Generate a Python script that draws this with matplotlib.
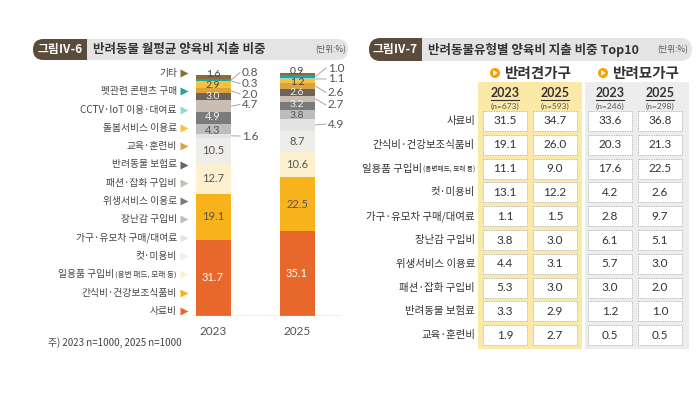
import numpy as np
import matplotlib.pyplot as plt
from matplotlib.patches import FancyBboxPatch, Rectangle, Circle, Polygon

plt.rcParams['font.family'] = ['Noto Sans CJK KR', 'DejaVu Sans']
NUM = ['Lato', 'DejaVu Sans']   # numbers look thin/humanist in the original

# ---- data: left panel (legend order, top of stack first) ----
cats = ['기타', '펫관련 콘텐츠 구매', 'CCTV·IoT 이용·대여료', '돌봄서비스 이용료', '교육·훈련비',
        '반려동물 보험료', '패션·잡화 구입비', '위생서비스 이용로', '장난감 구입비',
        '가구·유모차 구매/대여료', '컷·미용비', '일용품 구입비', '간식비·건강보조식품비', '사료비']
v2023 = [1.6, 0.8, 0.3, 2.9, 2.0, 3.0, 4.7, 4.9, 4.3, 1.6, 10.5, 12.7, 19.1, 31.7]
v2025 = [0.9, 1.0, 1.1, 1.2, 2.6, 2.6, 2.7, 3.2, 3.8, 4.9, 8.7, 10.6, 22.5, 35.1]
years = ['2023', '2025']
outside = [1, 2, 4, 6, 9]   # segments labelled outside the bar

# ---- data: right panel ----
rows = ['사료비', '간식비·건강보조식품비', '일용품 구입비', '컷·미용비', '가구·유모차 구매/대여료',
        '장난감 구입비', '위생서비스 이용료', '패션·잡화 구입비', '반려동물 보험료', '교육·훈련비']
dog23 = [31.5, 19.1, 11.1, 13.1, 1.1, 3.8, 4.4, 5.3, 3.3, 1.9]
dog25 = [34.7, 26.0, 9.0, 12.2, 1.5, 3.0, 3.1, 3.0, 2.9, 2.7]
cat23 = [33.6, 20.3, 17.6, 4.2, 2.8, 6.1, 5.7, 3.0, 1.2, 0.5]
cat25 = [36.8, 21.3, 22.5, 2.6, 9.7, 5.1, 3.0, 2.0, 1.0, 0.5]
n_sizes = ['(n=673)', '(n=593)', '(n=246)', '(n=298)']

colors = ['#8A6B3C', '#23A39C', '#8FD9D6', '#F9C23C', '#D9A441', '#6D6358', '#C9BEB1',
          '#7B7B7B', '#BDBDBD', '#E3E3E3', '#EFEDEA', '#FDF0CF', '#F8B21B', '#E8672A']
txtcol = ['#444', '#444', '#444', '#444', '#444', '#F2F2F2', '#444', '#F2F2F2', '#555',
          '#444', '#555', '#555', '#555', '#FFFFFF']
# small pixel nudges for the crowded labels at the top of the bars
nudge = {0: -2.5, 3: 1.0, 7: -1.5, 8: 1.5}

W, H = 699, 393
fig = plt.figure(figsize=(W / 100, H / 100), dpi=100)
bg = fig.add_axes([0, 0, 1, 1])
bg.set_xlim(0, W)
bg.set_ylim(H, 0)
bg.axis('off')


def title_pill(x0, x1, y0, y1, split, tag, title, unit, unit_x):
   r = (y1 - y0) / 2
   bg.add_patch(FancyBboxPatch((x0, y0), x1 - x0, y1 - y0,
                               boxstyle=f"round,pad=0,rounding_size={r}", fc='#E4E4E4', ec='none'))
   bg.add_patch(FancyBboxPatch((x0, y0), split - x0, y1 - y0,
                               boxstyle=f"round,pad=0,rounding_size={r}", fc='#5B4B3A', ec='none'))
   bg.add_patch(Rectangle((split - r, y0), r, y1 - y0, fc='#5B4B3A', ec='none'))
   ym = (y0 + y1) / 2
   bg.text((x0 + split) / 2, ym, tag, color='white', fontsize=8.5, fontweight='bold',
           ha='center', va='center')
   bg.text(split + 6, ym, title, color='#333', fontsize=9, fontweight='bold', ha='left', va='center')
   bg.text(unit_x, ym, unit, color='#555', fontsize=6, ha='right', va='center')


title_pill(33, 348, 39, 60, 87, '그림Ⅳ-6', '반려동물 월평균 양육비 지출 비중', '(단위:%)', 346)
title_pill(369, 692, 38, 61, 422, '그림Ⅳ-7', '반려동물유형별 양육비 지출 비중 Top10', '(단위:%)', 688)

# ---- left: legend labels with arrows ----
leg_y0, leg_dy = 73, 18.3
for i, c in enumerate(cats):
   y = leg_y0 + i * leg_dy
   if c == '일용품 구입비':
      t2 = bg.text(177, y, '(용변 패드, 모래 등)', fontsize=5.5, color='#444', ha='right', va='center')
      fig.canvas.draw()
      bb = t2.get_window_extent()
      bg.text(177 - bb.width - 1, y, c, fontsize=7, color='#444', ha='right', va='center')
   else:
      bg.text(177, y, c, fontsize=7, color='#444', ha='right', va='center')
   bg.plot(184, y, marker='>', ms=5.5, color=colors[i], mec='none')

bg.text(48, 343, '주) 2023 n=1000, 2025 n=1000', fontsize=7, color='#444', ha='left', va='center')

# ---- left: stacked bars ----
base_px, top_px = 316, 73
ymax = 100.9
scale = (base_px - top_px) / ymax
ax = fig.add_axes([185 / W, (H - base_px) / H, 160 / W, (base_px - top_px) / H])
ax.set_xlim(-28 / 84, 132 / 84)
ax.set_ylim(0, ymax)
bw = 35 / 84
for xi, vals in enumerate([v2023, v2025]):
   bottom = 0
   for i in range(len(vals) - 1, -1, -1):
      ax.bar(xi, vals[i], bottom=bottom, width=bw, color=colors[i], edgecolor='none')
      mid = bottom + vals[i] / 2 - nudge.get(i, 0) / scale
      if i not in outside:
         ax.text(xi, mid, f'{vals[i]:.1f}', ha='center', va='center',
                 fontsize=8 if vals[i] >= 4.0 else 7.5, color=txtcol[i], family=NUM)
      bottom += vals[i]
ax.axhline(0, xmin=0.044, xmax=0.97, color='#BBBBBB', lw=1)
ax.set_xticks([0, 1], years)
ax.tick_params(axis='x', length=0, pad=7, labelsize=8.5, labelcolor='#555')
for t in ax.get_xticklabels():
   t.set_family(NUM)
ax.set_yticks([])
for s in ax.spines.values():
   s.set_visible(False)
ax.patch.set_alpha(0)

# outside labels and leader lines (drawn in pixel space)
out_y = [[72.5, 83.5, 94, 104.5, 136], [68, 79, 92.5, 105, 124]]
bar_right = [230.5, 314.5]
lab_x = [242, 328]
for xi, vals in enumerate([v2023, v2025]):
   cum = np.cumsum(vals[::-1])[::-1]   # top of each segment
   for k, i in enumerate(outside):
      yseg = base_px - (cum[i] - vals[i] / 2) * scale
      ly = out_y[xi][k]
      bg.plot([bar_right[xi] + 1, lab_x[xi] - 2], [yseg, ly], color='#999', lw=0.6)
      bg.text(lab_x[xi], ly, f'{vals[i]:.1f}', fontsize=8.5, color='#555', ha='left', va='center',
              family=NUM)

# ---- right: table ----
bg.add_patch(Rectangle((478, 82), 104, 267, fc='#FCE9A8', ec='none'))
bg.add_patch(Rectangle((585, 82), 104, 267, fc='#EDEDED', ec='none'))

for cx, lab in [(495, '반려견가구'), (603, '반려묘가구')]:
   bg.add_patch(Circle((cx, 73), 5, fc='#F5A000', ec='none'))
   bg.add_patch(Polygon([[cx - 1.8, 70.2], [cx - 1.8, 75.8], [cx + 2.8, 73]], fc='white', ec='none'))
   bg.text(cx + 9, 73, lab, fontsize=10.5, fontweight='bold', color='#333', ha='left', va='center')

col_x = [505, 555, 610, 660]
for j, cx in enumerate(col_x):
   bg.text(cx, 93, years[j % 2], fontsize=9, fontweight='bold', color='#333', ha='center', va='center',
           family=NUM)
   bg.plot([cx - 14, cx + 14], [99.5, 99.5], color='#333', lw=0.8)
   bg.text(cx, 106, n_sizes[j], fontsize=6, color='#555', ha='center', va='center', family=NUM)

row_y0, row_dy = 121, 23.8
for r, name in enumerate(rows):
   y = row_y0 + r * row_dy
   if name == '일용품 구입비':
      t2 = bg.text(475, y, '(용변패드, 모래 등)', fontsize=4.8, color='#333', ha='right', va='center')
      fig.canvas.draw()
      bb = t2.get_window_extent()
      bg.text(475 - bb.width - 1, y, name, fontsize=7.5, color='#333', ha='right', va='center')
   else:
      bg.text(475, y, name, fontsize=7.5, color='#333', ha='right', va='center')
   for j, vals in enumerate([dog23, dog25, cat23, cat25]):
      cx = col_x[j]
      bg.add_patch(Rectangle((cx - 22, y - 10), 44, 20, fc='white', ec='#BBBBBB', lw=0.6,
                             ls=(0, (2, 1))))
      bg.text(cx, y, f'{vals[r]:.1f}', fontsize=8.5, color='#333', ha='center', va='center',
              family=NUM)

fig.savefig('out.png', dpi=100)
